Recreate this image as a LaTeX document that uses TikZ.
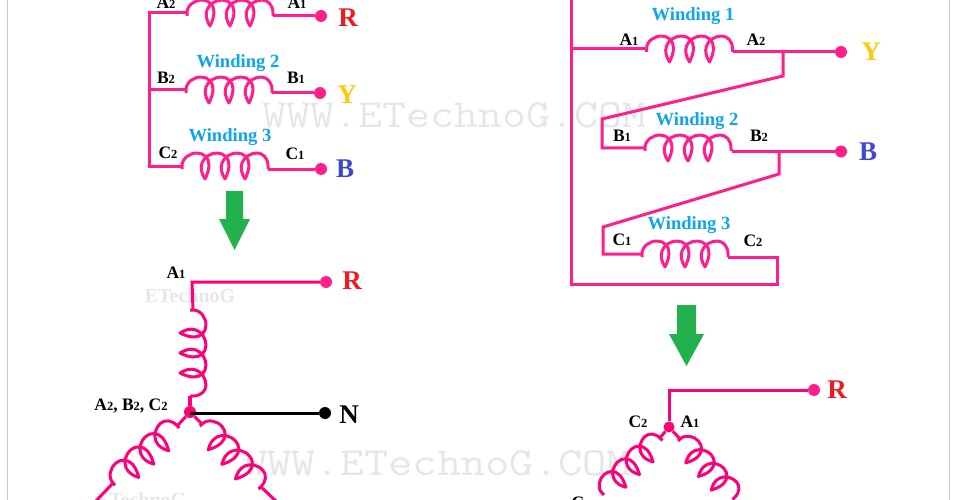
\documentclass[tikz,border=0pt]{standalone}
\usepackage{fontspec}
\setmainfont{Liberation Serif}
\definecolor{wire}{HTML}{FF1E8C}
\definecolor{wiredeep}{HTML}{FF0078}
\definecolor{wavecol}{HTML}{0EA5E9}
\definecolor{mark}{HTML}{E6E6E6}
\definecolor{redc}{HTML}{ED1C24}
\definecolor{yelc}{HTML}{FFC90E}
\definecolor{bluc}{HTML}{3F48CC}
\definecolor{grnc}{HTML}{22B14C}
\definecolor{framec}{HTML}{C8C8C8}
\newcommand{\tname}[2]{#1{\fontsize{12.5}{13}\selectfont #2}}
\tikzset{
  x=1pt,y=-1pt,
  wireline/.style={draw=wire,line width=3pt,line join=miter},
  wiredeepline/.style={draw=wiredeep,line width=3pt,line join=miter},
  neutral/.style={draw=black,line width=3pt},
  dotnode/.style={circle,fill=wire,inner sep=0pt,minimum size=12pt},
  junction/.style={circle,fill=wiredeep,inner sep=0pt,minimum size=12pt},
  phase/.style={font=\fontsize{27}{27}\selectfont\bfseries,inner sep=0pt},
  termlabel/.style={font=\fontsize{17.5}{18}\selectfont\bfseries,inner sep=0pt},
  windlabel/.style={font=\fontsize{18.6}{19}\selectfont\bfseries,text=wavecol,inner sep=0pt},
  bigmark/.style={font=\fontsize{40}{40}\selectfont\ttfamily,text=mark,inner sep=0pt,anchor=west,transform shape,xscale=1.165},
  smallmark/.style={font=\fontsize{20}{20}\selectfont\bfseries,text=mark,inner sep=0pt},
  downarrow/.style={fill=grnc,draw=none},
  coilpic/.pic={
    \draw[pic actions,line join=round]
      (0,3) -- (0,0) .. controls (0,-8) and (8,-13) .. (15,-13)
      .. controls (22,-13) and (27,-8) .. (27,-1) .. controls (27,4) and (25,9) .. (23,13)
      .. controls (20,8) and (18,3) .. (20,-3) .. controls (22,-9) and (29,-13) .. (35,-13)
      .. controls (42,-13) and (47,-8) .. (47,-1) .. controls (47,4) and (45,9) .. (43,13)
      .. controls (40,8) and (38,3) .. (40,-3) .. controls (42,-9) and (49,-13) .. (55,-13)
      .. controls (62,-13) and (67,-8) .. (67,-1) .. controls (67,4) and (65,9) .. (63,13)
      .. controls (60,8) and (58,3) .. (60,-3) .. controls (62,-9) and (69,-13) .. (75,-13)
      .. controls (81,-13) and (86,-8) .. (86,0) -- (86,3);
  }
}
\begin{document}
\begin{tikzpicture}
\useasboundingbox (0,0) rectangle (953,500);
% frame
\draw[framec,line width=1pt] (7.5,0) -- (7.5,500) (949.5,0) -- (949.5,500);
% watermarks
\node[bigmark] at (262,115) {WWW.ETechnoG.COM};
\node[bigmark,xscale=1.01] at (243,463) {WWW.ETechnoG.COM};
\node[smallmark] at (190,296) {ETechnoG};
\node[smallmark] at (141,500) {ETechnoG};
\node[smallmark] at (660,508) {ETechnoG};

% ---- upper left
\coordinate (lbustop) at (149,13);
\coordinate (lbusmid) at (149,90);
\coordinate (lbusbot) at (149,166);
\coordinate (la0) at (187,13); \coordinate (la1) at (273,16);
\coordinate (lb0) at (186,90); \coordinate (lb1) at (272,93);
\coordinate (lc0) at (182,166); \coordinate (lc1) at (268,169);
\node[dotnode] (lR) at (321,16) {};
\node[dotnode] (lY) at (320,93) {};
\node[dotnode] (lB) at (321,169) {};
\pic[wireline] at (la0) {coilpic};
\pic[wireline] at (lb0) {coilpic};
\pic[wireline] at (lc0) {coilpic};
\draw[wireline] (la0) -- (lbustop) -- (lbusbot) -- (lc0);
\draw[wireline] (lbusmid) -- (lb0);
\draw[wireline] (la1) -- (lR);
\draw[wireline] (lb1) -- (lY);
\draw[wireline] (lc1) -- (lB);
\node[termlabel] at (166,3) {\tname{A}{2}};
\node[termlabel] at (297,3) {\tname{A}{1}};
\node[termlabel] at (166,78) {\tname{B}{2}};
\node[termlabel] at (296,78) {\tname{B}{1}};
\node[termlabel] at (168,153) {\tname{C}{2}};
\node[termlabel] at (295,154) {\tname{C}{1}};
\node[windlabel] at (238,63) {Winding 2};
\node[windlabel] at (230,137) {Winding 3};
\node[phase,text=redc] at (348,18) {R};
\node[phase,text=yelc] at (347,95) {Y};
\node[phase,text=bluc] at (345,169) {B};
\fill[downarrow] (226,191) -- (243,191) -- (243,219) -- (250,219) -- (234.5,250) -- (219,219) -- (226,219) -- cycle;

% ---- lower left (star)
\coordinate (sRc) at (192,282);
\coordinate (sa0) at (193,310);
\coordinate (sa1) at (190,396);
\node[junction] (sC) at (190,412) {};
\node[dotnode] (sR) at (326,282) {};
\node[circle,fill=black,inner sep=0pt,minimum size=12pt] (sN) at (325,413) {};
\draw[wiredeepline] (sR) -- (sRc) -- (sa0);
\pic[wiredeepline,rotate=-90] at (sa0) {coilpic};
\draw[wiredeepline,line width=3.6pt] (sa1) -- (sC);
\coordinate (sNs) at (190,413);
\draw[neutral] (sNs) -- (sN);
\coordinate (sb0) at (202,424); \coordinate (sb1) at (261,487); \coordinate (sb2) at (276,501);
\coordinate (sd0) at (178,425); \coordinate (sd1) at (113,483); \coordinate (sd2) at (96,501);
\pic[wiredeepline,rotate=-47] at (sb0) {coilpic};
\pic[wiredeepline,rotate=41.7] at (sd1) {coilpic};
\draw[wiredeepline] (sC) -- (sb0);
\draw[wiredeepline] (sC) -- (sd0);
\draw[wiredeepline] (sb1) -- (sb2);
\draw[wiredeepline] (sd1) -- (sd2);
\node[termlabel] at (176,273) {\tname{A}{1}};
\node[termlabel] at (131,406) {\tname{A}{2}, \tname{B}{2}, \tname{C}{2}};
\node[phase,text=redc] at (352,281) {R};
\node[phase,text=black] at (349,415) {N};

% ---- upper right
\coordinate (rtop) at (571,-2);
\coordinate (rj) at (571,49);
\coordinate (rbot) at (571,284);
\coordinate (ra0) at (646.5,49); \coordinate (ra1) at (733,52);
\coordinate (rb0) at (645,148); \coordinate (rb1) at (732,151.5);
\coordinate (rc0) at (642,254); \coordinate (rc1) at (728,257);
\node[dotnode] (rY) at (841,52) {};
\node[dotnode] (rB) at (841,151.5) {};
\pic[wireline] at (ra0) {coilpic};
\pic[wireline] at (rb0) {coilpic};
\pic[wireline] at (rc0) {coilpic};
\coordinate (rk1) at (783,52);
\coordinate (rk2) at (783,76);
\coordinate (rk3) at (602,119);
\coordinate (rk4) at (602,148);
\coordinate (rm1) at (779,151.5);
\coordinate (rm2) at (779,174);
\coordinate (rm3) at (603,227);
\coordinate (rm4) at (603,254);
\coordinate (rn1) at (777,257);
\coordinate (rn2) at (777,284);
\draw[wireline] (rtop) -- (rbot) -- (rn2) -- (rn1) -- (rc1);
\draw[wireline] (rj) -- (ra0);
\draw[wireline] (ra1) -- (rY);
\draw[wireline] (rk1) -- (rk2) -- (rk3) -- (rk4) -- (rb0);
\draw[wireline] (rb1) -- (rB);
\draw[wireline] (rm1) -- (rm2) -- (rm3) -- (rm4) -- (rc0);
\node[termlabel] at (629,40) {\tname{A}{1}};
\node[termlabel] at (756,40) {\tname{A}{2}};
\node[termlabel] at (622,136) {\tname{B}{1}};
\node[termlabel] at (759,136) {\tname{B}{2}};
\node[termlabel] at (622,240) {\tname{C}{1}};
\node[termlabel] at (753,241) {\tname{C}{2}};
\node[windlabel] at (693,16) {Winding 1};
\node[windlabel] at (697,121) {Winding 2};
\node[windlabel] at (689,225) {Winding 3};
\node[phase,text=yelc] at (871,52) {Y};
\node[phase,text=bluc] at (868,152) {B};
\fill[downarrow] (677,305) -- (696,305) -- (696,334) -- (704,334) -- (686.5,366) -- (669,334) -- (677,334) -- cycle;

% ---- lower right (delta)
\coordinate (dRc) at (669,390);
\node[junction,minimum size=11pt] (dC) at (669,427) {};
\node[dotnode] (dR) at (814,390) {};
\draw[wiredeepline] (dR) -- (dRc) -- (dC);
\coordinate (db0) at (680,439);
\coordinate (dd0) at (659,439); \coordinate (dd1) at (602,493);
\pic[wiredeepline,rotate=-47,scale=.93] at (db0) {coilpic};
\pic[wiredeepline,rotate=43,scale=.93] at (dd1) {coilpic};
\draw[wiredeepline] (dC) -- (db0);
\draw[wiredeepline] (dC) -- (dd0);
\node[termlabel] at (638,422) {\tname{C}{2}};
\node[termlabel] at (690,422) {\tname{A}{1}};
\node[termlabel] at (578,503) {C};
\node[phase,text=redc] at (837,390) {R};
\end{tikzpicture}
\end{document}
